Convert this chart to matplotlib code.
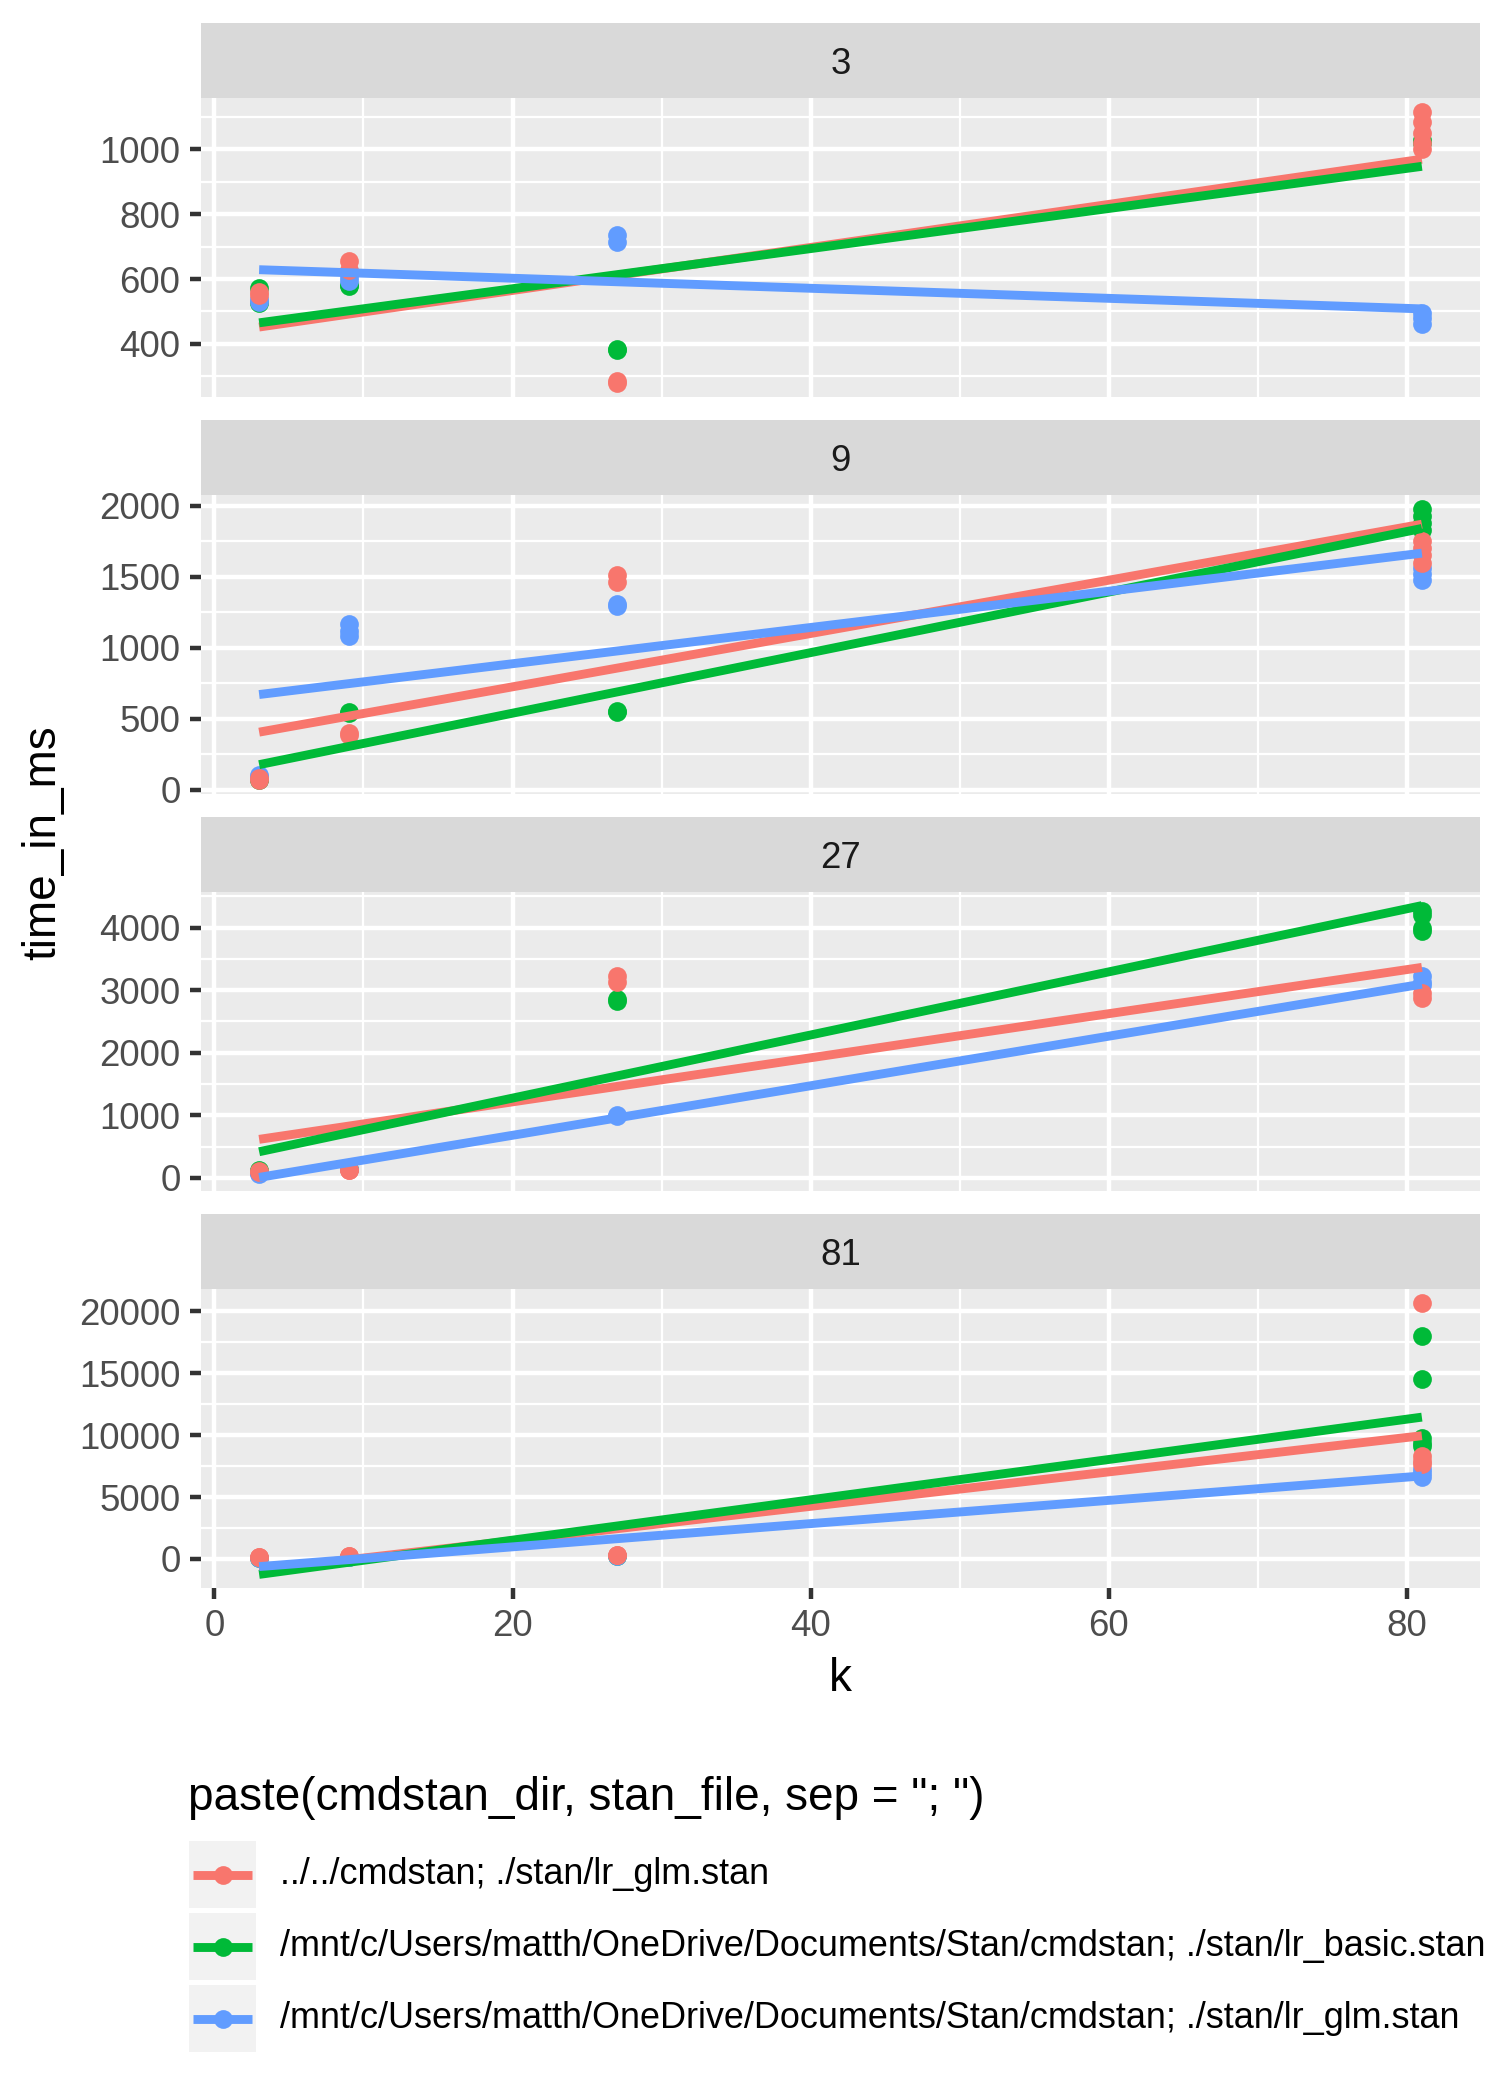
import matplotlib
matplotlib.use("Agg")
import matplotlib.pyplot as plt
from matplotlib.ticker import MultipleLocator, FuncFormatter
from matplotlib.patches import Rectangle
from matplotlib.lines import Line2D
import numpy as np

plt.rcParams['font.family'] = ['Liberation Sans', 'DejaVu Sans']

# ---------------- data ----------------
facets = [3, 9, 27, 81]
k_values = [3, 9, 27, 81]
series_labels = ["../../cmdstan; ./stan/lr_glm.stan",
                 "/mnt/c/Users/matth/OneDrive/Documents/Stan/cmdstan; ./stan/lr_basic.stan",
                 "/mnt/c/Users/matth/OneDrive/Documents/Stan/cmdstan; ./stan/lr_glm.stan"]
series_colors = ["#F8766D", "#00BA38", "#619CFF"]

# points: per facet, per k (k_values order), list of replicate times
f3_red   = [[560, 552], [655, 628], [286, 278], [1117, 1085, 1050, 1020, 1003]]
f3_green = [[572, 525], [583, 578], [383, 380], [1028, 1020]]
f3_blue  = [[538, 530], [605, 595], [736, 716], [495, 480, 460]]

f9_red   = [[70, 80], [400, 385], [1515, 1460], [1750, 1700, 1650, 1600]]
f9_green = [[65, 75], [550, 540], [555, 545], [1980, 1930, 1875, 1830]]
f9_blue  = [[100, 90], [1170, 1120, 1085], [1310, 1295], [1560, 1520, 1480]]

f27_red   = [[90, 110], [130, 120], [3230, 3130], [2950, 2880]]
f27_green = [[100, 130], [150], [2860, 2830], [4270, 4200, 3990, 3940]]
f27_blue  = [[70, 80], [140], [1010, 990], [3220, 3130, 3080]]

f81_red   = [[150, 120], [250, 200], [300, 280], [20700, 8300, 7900, 7700]]
f81_green = [[100], [180], [260], [18000, 14500, 9800, 9400, 9100]]
f81_blue  = [[80], [150], [240], [7250, 6950, 6650]]

# fitted (lm) line values at k=3 and k=81, per facet
fit_red_start   = [452, 405, 616, -900]
fit_red_end     = [970, 1870, 3363, 9950]
fit_green_start = [465, 176, 418, -1250]
fit_green_end   = [948, 1840, 4350, 11450]
fit_blue_start  = [629, 670, 8, -620]
fit_blue_end    = [508, 1666, 3095, 6700]

y_major = [200, 500, 1000, 5000]

points_by_facet = [
    [f3_red, f3_green, f3_blue],
    [f9_red, f9_green, f9_blue],
    [f27_red, f27_green, f27_blue],
    [f81_red, f81_green, f81_blue],
]
fit_start = [fit_red_start, fit_green_start, fit_blue_start]
fit_end = [fit_red_end, fit_green_end, fit_blue_end]

# ---------------- layout ----------------
W, H = 1500, 2100
fig = plt.figure(figsize=(5, 7), dpi=300)
fig.patch.set_facecolor("white")

def rect(l, t, r, b):
    return [l / W, 1 - b / H, (r - l) / W, (b - t) / H]

LEFT, RIGHT = 201, 1480
STRIP_H, PLOT_H, STEP = 75, 299, 397
TOP0 = 23

LW_LINE = 2.13
MS = 4.5
GRID_MAJ = 1.07
GRID_MIN = 0.53

xmin_d, xmax_d = min(k_values), max(k_values)
xexp = 0.05 * (xmax_d - xmin_d)

for i, f in enumerate(facets):
    st = TOP0 + i * STEP
    pt = st + STRIP_H
    pb = pt + PLOT_H
    # strip
    sax = fig.add_axes(rect(LEFT, st, RIGHT, pt))
    sax.set_facecolor("#D9D9D9")
    sax.set_xticks([]); sax.set_yticks([])
    for s in sax.spines.values():
        s.set_visible(False)
    sax.text(0.5, 0.45, str(f), ha="center", va="center", fontsize=8.8,
             color="#1A1A1A", transform=sax.transAxes)

    ax = fig.add_axes(rect(LEFT, pt, RIGHT, pb))
    ax.set_facecolor("#EBEBEB")
    for s in ax.spines.values():
        s.set_visible(False)

    allv = []
    # points: draw order green, blue, red
    for si in [1, 2, 0]:
        data = points_by_facet[i][si]
        xs, ys = [], []
        for kk, vals in zip(k_values, data):
            for v in vals:
                xs.append(kk); ys.append(v)
        allv += ys
        ax.plot(xs, ys, linestyle="none", marker="o", ms=MS,
                color=series_colors[si], markeredgewidth=0, zorder=3)
    # fitted lines: red, green, blue
    for si in [0, 1, 2]:
        ys = [fit_start[si][i], fit_end[si][i]]
        allv += ys
        ax.plot([k_values[0], k_values[-1]], ys, color=series_colors[si],
                lw=LW_LINE, solid_capstyle="butt", zorder=4)

    lo, hi = min(allv), max(allv)
    e = 0.05 * (hi - lo)
    ax.set_ylim(lo - e, hi + e)
    ax.set_xlim(xmin_d - xexp, xmax_d + xexp)

    ax.xaxis.set_major_locator(MultipleLocator(20))
    ax.xaxis.set_minor_locator(MultipleLocator(10))
    ax.yaxis.set_major_locator(MultipleLocator(y_major[i]))
    ax.yaxis.set_minor_locator(MultipleLocator(y_major[i] / 2))
    ax.yaxis.set_major_formatter(FuncFormatter(lambda v, p: f"{int(round(v))}"))
    ax.grid(True, which="major", color="white", lw=GRID_MAJ, zorder=1)
    ax.grid(True, which="minor", color="white", lw=GRID_MIN, zorder=1)
    ax.set_axisbelow(True)
    ax.tick_params(axis="both", which="major", length=2.75, width=GRID_MAJ,
                   color="#333333", labelsize=8.8, labelcolor="#4D4D4D", pad=2.2)
    ax.tick_params(axis="both", which="minor", length=0)
    if i < len(facets) - 1:
        ax.tick_params(axis="x", which="major", length=0, labelbottom=False)

# axis titles
fig.text((LEFT + RIGHT) / 2 / W, 1 - 1679 / H, "k", ha="center", va="center",
         fontsize=11, color="black")
fig.text(43 / W, 1 - 843 / H, "time_in_ms", ha="center", va="center",
         rotation=90, fontsize=11, color="black")

# legend
lax = fig.add_axes([0, 0, 1, 1], facecolor="none")
lax.set_xlim(0, W); lax.set_ylim(H, 0)
lax.axis("off")
lax.text(188, 1798, 'paste(cmdstan_dir, stan_file, sep = "; ")', ha="left",
         va="center", fontsize=11, color="black")
row_tops = [1841, 1913, 1985]
KEY = 67
for lab, col, rt in zip(series_labels, series_colors, row_tops):
    lax.add_patch(Rectangle((189, rt), KEY, KEY, facecolor="#F2F2F2",
                            edgecolor="none"))
    cy = rt + KEY / 2
    lax.add_line(Line2D([193, 252], [cy, cy], color=col, lw=LW_LINE,
                        solid_capstyle="butt"))
    lax.plot([189 + KEY / 2], [cy], marker="o", ms=MS, color=col,
             markeredgewidth=0, linestyle="none")
    lax.text(280, cy, lab, ha="left", va="center", fontsize=8.65, color="black")

fig.savefig("out.png", dpi=300, facecolor="white")
